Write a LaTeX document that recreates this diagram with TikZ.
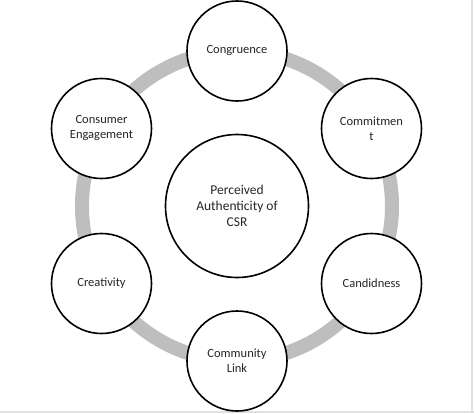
\documentclass[tikz,border=0pt]{standalone}
\usepackage{fontspec}
\setmainfont{Carlito}
\definecolor{ringgray}{RGB}{190,190,190}
\definecolor{edgegray}{RGB}{225,225,225}
\definecolor{txt}{RGB}{38,38,38}
\begin{document}
\begin{tikzpicture}[x=1pt,y=-1pt,
  bub/.style={circle,draw=black,line width=1.6pt,fill=white,minimum size=100pt,
    inner sep=0pt,align=center,font=\fontsize{12.5}{15}\selectfont,text=txt},
  ring/.style={draw=ringgray,line width=14pt}]
\useasboundingbox (0,0) rectangle (474,413);
\clip (0,0) rectangle (474,413);
\draw[edgegray,line width=1.5pt] (472,0) -- (472,413);
\draw[edgegray,line width=2pt] (0,412) -- (474,412);
\coordinate (c) at (237,206);
\draw[ring] (c) circle[radius=155pt];
\node[bub,minimum size=143pt,font=\fontsize{13.5}{16}\selectfont] (core) at (c) {Perceived\\Authenticity of\\CSR};
\node[bub] (cong) at (237,51) {Congruence};
\node[bub] (comm) at (371.5,128.5) {Commitmen\\t};
\node[bub] (cand) at (371.5,283.5) {Candidness};
\node[bub] (link) at (237,361) {Community\\Link};
\node[bub] (crea) at (101.5,283.5) {Creativity};
\node[bub] (cons) at (101.5,128.5) {Consumer\\Engagement};
\end{tikzpicture}
\end{document}
